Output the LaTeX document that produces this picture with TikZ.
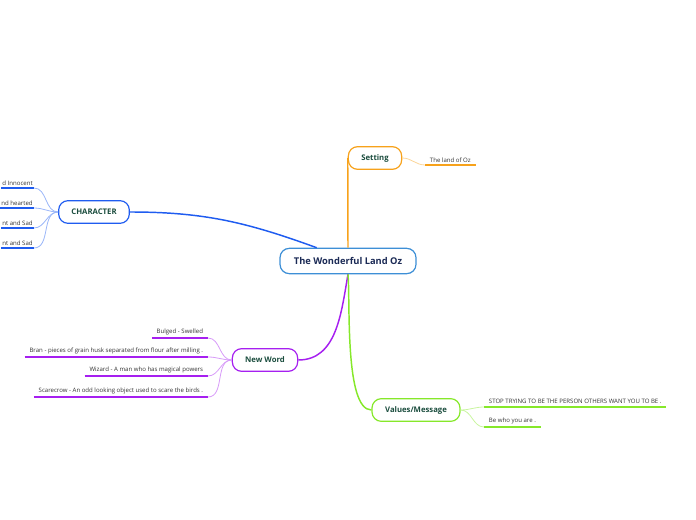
\documentclass[tikz,border=0pt]{standalone}
\usepackage{fontspec}
\setmainfont{Open Sans}
\usetikzlibrary{positioning}
\definecolor{rootblue}{HTML}{3D8FD6}
\definecolor{rootink}{HTML}{1B2A55}
\definecolor{topicink}{HTML}{1B4D3E}
\definecolor{leafink}{HTML}{333333}
\definecolor{charblue}{HTML}{1F5CF0}
\definecolor{setorange}{HTML}{F7A21B}
\definecolor{wordpurple}{HTML}{A61FF0}
\definecolor{valgreen}{HTML}{86E82A}

\begin{document}
\begin{tikzpicture}[x=0.75pt,y=0.75pt]
\tikzset{
  rootnode/.style={draw=rootblue,line width=0.9pt,rounded corners=7pt,fill=white,minimum width=102pt,minimum height=19pt,font=\fontsize{7}{8.5}\selectfont\bfseries,text=rootink},
  topic/.style={draw=#1,line width=0.9pt,rounded corners=7pt,fill=white,minimum height=17pt,font=\fontsize{5.8}{7}\selectfont\bfseries,text=topicink},
  leaf/.style={font=\fontsize{4.55}{5.5}\selectfont,text=leafink,inner xsep=3.5pt,inner ysep=2pt,
    append after command={(\tikzlastnode.south west) edge[draw=#1,line width=1.1pt] (\tikzlastnode.south east)}},
  edgeleaf/.style={leaf=#1,inner xsep=0.8pt,anchor=south east},
  branch/.style={draw=#1,line width=1.1pt},
  twig/.style={draw=#1!45,line width=0.6pt}
}
\useasboundingbox (0,0) rectangle (696,-520);
% centre and main topics
\node[rootnode] (n_root) at (348,-261) {The Wonderful Land Oz};
\node[topic=setorange,minimum width=40pt] (n_set) at (375,-158) {Setting};
\node[topic=charblue,minimum width=53pt] (n_char) at (94,-212) {CHARACTER};
\node[topic=wordpurple,minimum width=49pt] (n_word) at (265,-360) {New Word};
\node[topic=valgreen,minimum width=66pt] (n_val) at (416,-410) {Values/Message};
% leaves
\node[leaf=setorange,anchor=south west] (n_oz) at (425,-165) {The land of Oz};
\node[edgeleaf=charblue] (n_c1) at (34,-188) {d Innocent};
\node[edgeleaf=charblue] (n_c2) at (34,-208) {nd hearted};
\node[edgeleaf=charblue] (n_c3) at (34,-228) {nt and Sad};
\node[edgeleaf=charblue] (n_c4) at (34,-248) {nt and Sad};
\node[leaf=wordpurple,anchor=south east] (n_w1) at (208,-338) {Bulged - Swelled};
\node[leaf=wordpurple,anchor=south east] (n_w2) at (208,-357) {Bran - pieces of grain husk separated from flour after milling .};
\node[leaf=wordpurple,anchor=south east] (n_w3) at (208,-376) {Wizard - A man who has magical powers};
\node[leaf=wordpurple,anchor=south east] (n_w4) at (208,-397) {Scarecrow - An odd looking object used to scare the birds .};
\node[leaf=valgreen,anchor=south west] (n_v1) at (484,-407) {STOP TRYING TO BE THE PERSON OTHERS WANT YOU TO BE .};
\node[leaf=valgreen,anchor=south west] (n_v2) at (484,-427) {Be who you are .};
% branches
\draw[branch=charblue] (n_root.157) to[out=160,in=0] (n_char.east);
\draw[branch=setorange] (n_root.north) -- (n_set.west);
\draw[branch=wordpurple] (n_root.south) to[out=-100,in=0] (n_word.east);
\draw[branch=valgreen] (n_root.south) to[out=-85,in=180,looseness=0.5] (n_val.west);
% twigs
\draw[twig=setorange] (n_set.east) to[out=0,in=180] (n_oz.south west);
\draw[twig=charblue] (n_char.west) to[out=180,in=0] (n_c1.south east);
\draw[twig=charblue] (n_char.west) to[out=180,in=0] (n_c2.south east);
\draw[twig=charblue] (n_char.west) to[out=180,in=0] (n_c3.south east);
\draw[twig=charblue] (n_char.west) to[out=180,in=0] (n_c4.south east);
\draw[twig=wordpurple] (n_word.west) to[out=180,in=0] (n_w1.south east);
\draw[twig=wordpurple] (n_word.west) to[out=180,in=0] (n_w2.south east);
\draw[twig=wordpurple] (n_word.west) to[out=180,in=0] (n_w3.south east);
\draw[twig=wordpurple] (n_word.west) to[out=180,in=0] (n_w4.south east);
\draw[twig=valgreen] (n_val.east) to[out=0,in=180] (n_v1.south west);
\draw[twig=valgreen] (n_val.east) to[out=0,in=180] (n_v2.south west);
\end{tikzpicture}
\end{document}
